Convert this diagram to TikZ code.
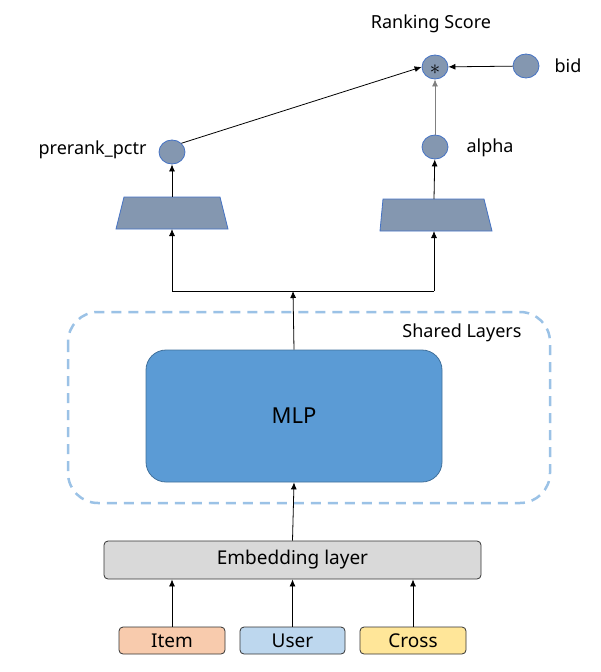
\documentclass[tikz,border=0pt]{standalone}
\usepackage{fontspec}
\setmainfont{Noto Sans}
\usetikzlibrary{arrows.meta}
\definecolor{circf}{RGB}{132,151,176}
\definecolor{circd}{RGB}{68,114,196}
\definecolor{dashc}{RGB}{155,194,230}
\definecolor{mlpf}{RGB}{91,155,213}
\definecolor{mlpd}{RGB}{65,113,156}
\definecolor{embf}{RGB}{217,217,217}
\definecolor{itemf}{RGB}{248,203,173}
\definecolor{userf}{RGB}{189,215,238}
\definecolor{crossf}{RGB}{255,230,153}
\tikzset{
 circ/.style={ellipse,minimum width=26pt,minimum height=24pt,inner sep=0,fill=circf,draw=circd,line width=0.8pt},
 trap/.style={fill=circf,draw=circd,line width=0.8pt},
 arr/.style={-{Latex[length=7pt,width=6pt]},line width=0.8pt},
 lab/.style={font=\fontsize{18}{20}\selectfont},
 inp/.style={draw=black!80,rounded corners=4pt,line width=0.8pt,font=\fontsize{19}{21}\selectfont,inner sep=0}
}
\usetikzlibrary{shapes.geometric}
\begin{document}
\begin{tikzpicture}[x=1pt,y=-1pt]
\useasboundingbox (0,0) rectangle (600,672);
\node[lab] at (431,24) {Ranking Score};
\node[circ] (star) at (435,67) {};
\node at (435,70) {\fontsize{22}{22}\selectfont$\ast$};
\node[circ] (bid) at (526,66) {};
\node[lab,anchor=west] at (551,66) {bid};
\node[circ] (pc) at (172,152) {};
\node[lab,anchor=east] at (150,150) {prerank\_pctr};
\node[circ] (al) at (435,147) {};
\node[lab,anchor=west] at (463,148) {alpha};
\draw[trap] (124,197) -- (220,197) -- (228,229) -- (116,229) -- cycle;
\draw[trap] (383,199) -- (484,199) -- (492,231) -- (380,231) -- cycle;
\coordinate (t1top) at (172,197); \coordinate (t1bot) at (172,229);
\coordinate (t2top) at (434,199); \coordinate (t2bot) at (434,231);
\draw[arr] (pc.north east) -- (star.west);
\draw[arr,draw=gray] (al) -- (star);
\draw[arr] (bid) -- (star);
\draw[arr] (t1top) -- (pc);
\draw[arr] (t2top) -- (al);
\draw[dashc,dashed,line width=2.5pt,dash pattern=on 10pt off 7pt,rounded corners=30pt] (68,312) rectangle (550,503);
\node[lab,anchor=east] at (525,333) {Shared Layers};
\node[draw=mlpd,fill=mlpf,rounded corners=20pt,minimum width=296pt,minimum height=132pt,line width=0.8pt,font=\fontsize{22}{24}\selectfont] (mlp) at (294,416) {MLP};
\coordinate (split) at (293,291);
\draw[arr] (mlp.north) -- (split);
\draw[line width=0.8pt] (172,291) -- (434,291);
\draw[arr] (172,291) -- (t1bot);
\draw[arr] (434,291) -- (t2bot);
\node[inp,fill=embf,minimum width=377pt,minimum height=38pt] (emb) at (292.5,560) {Embedding layer};
\draw[arr] (emb.north) -- (mlp.south);
\node[inp,fill=itemf,minimum width=106pt,minimum height=27pt] (item) at (172,640.5) {Item};
\node[inp,fill=userf,minimum width=105pt,minimum height=27pt] (user) at (292.5,640.5) {User};
\node[inp,fill=crossf,minimum width=106pt,minimum height=27pt] (cross) at (413,640.5) {Cross};
\draw[arr] (item) -- (item.north |- emb.south);
\draw[arr] (user) -- (emb);
\draw[arr] (cross) -- (cross.north |- emb.south);
\end{tikzpicture}
\end{document}
